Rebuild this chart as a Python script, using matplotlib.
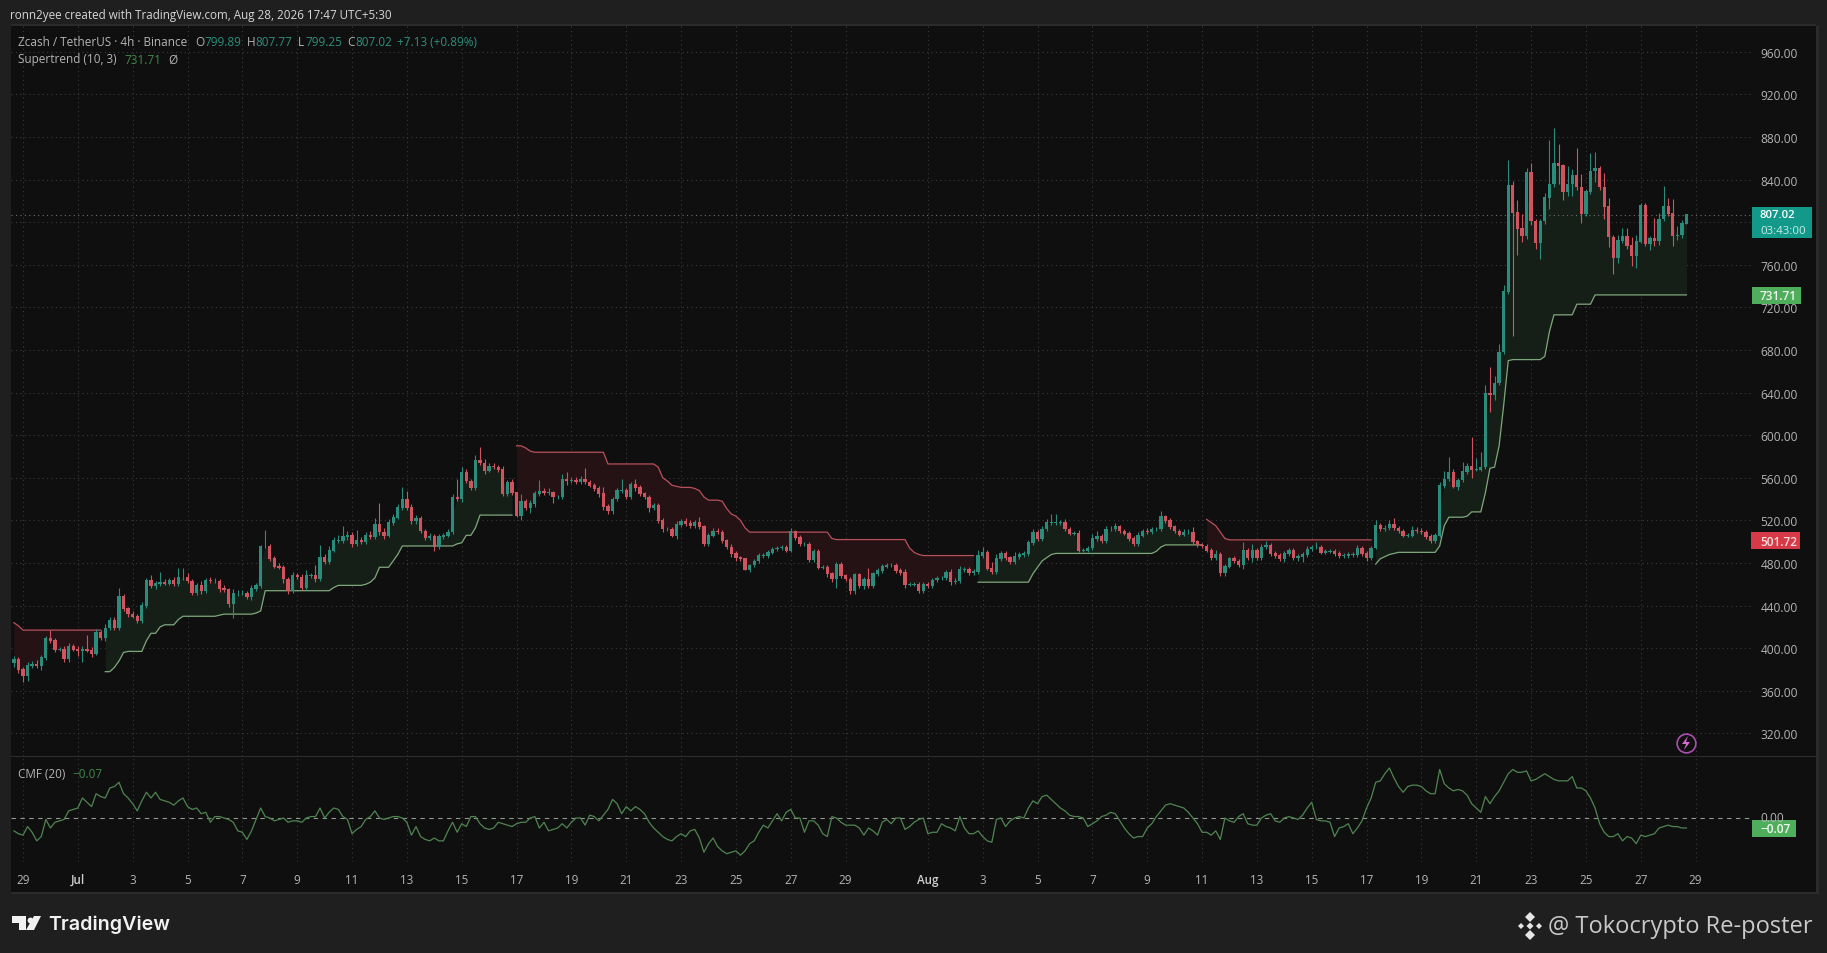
import matplotlib
matplotlib.use("Agg")
import numpy as np
from matplotlib import pyplot as plt
from matplotlib.lines import Line2D
from matplotlib.patches import Polygon, Rectangle

nan = float("nan")
W, H = 1827, 954

closes = [
    390, 380, 374, 384, 385, 384, 391, 409, 407, 399,
    399, 390, 402, 399, 398, 399, 398, 395, 415, 410,
    419, 426, 419, 449, 437, 432, 430, 426, 440, 464,
    459, 461, 462, 461, 464, 461, 467, 467, 463, 452,
    459, 454, 464, 463, 463, 456, 455, 442, 452, 452,
    452, 448, 456, 459, 496, 496, 484, 477, 476, 465,
    454, 468, 467, 457, 468, 468, 465, 485, 481, 492,
    501, 501, 505, 506, 498, 501, 500, 506, 505, 516,
    509, 506, 518, 523, 532, 540, 532, 520, 522, 510,
    504, 505, 495, 505, 506, 509, 542, 540, 565, 557,
    551, 576, 574, 567, 571, 570, 568, 545, 556, 546,
    524, 538, 532, 536, 545, 547, 546, 546, 542, 542,
    559, 557, 558, 556, 559, 556, 553, 550, 545, 533,
    529, 540, 548, 548, 542, 554, 551, 545, 542, 532,
    534, 520, 512, 512, 506, 516, 519, 517, 515, 518,
    514, 498, 506, 510, 509, 501, 495, 489, 485, 484,
    474, 478, 482, 487, 487, 490, 493, 494, 495, 492,
    510, 504, 498, 498, 483, 491, 476, 476, 470, 465,
    479, 468, 465, 454, 469, 459, 465, 459, 470, 473,
    477, 478, 478, 473, 471, 460, 460, 460, 454, 460,
    459, 464, 466, 466, 471, 462, 463, 474, 474, 471,
    472, 487, 490, 475, 472, 484, 489, 485, 481, 486,
    488, 489, 499, 509, 503, 512, 518, 518, 518, 518,
    512, 508, 508, 492, 492, 494, 503, 505, 501, 512,
    512, 514, 510, 508, 503, 498, 506, 510, 509, 512,
    512, 524, 520, 514, 510, 507, 509, 509, 500, 497,
    496, 492, 485, 488, 471, 477, 484, 482, 478, 492,
    485, 492, 485, 495, 497, 489, 487, 484, 489, 492,
    485, 486, 488, 493, 495, 495, 490, 491, 491, 489,
    487, 487, 488, 488, 494, 489, 485, 494, 515, 512,
    513, 516, 513, 510, 506, 506, 511, 510, 509, 505,
    501, 506, 553, 559, 565, 552, 558, 566, 571, 568,
    568, 570, 639, 638, 649, 678, 735, 835, 809, 794,
    787, 847, 801, 781, 801, 823, 836, 855, 853, 829,
    836, 844, 833, 808, 829, 848, 851, 833, 815, 786,
    767, 783, 787, 778, 769, 782, 816, 780, 785, 783,
    803, 815, 808, 787, 788, 799, 807.02,
]
first_open = 386

# wick lengths above / below the candle body
wick_up = [
    3, 2, 2, 3, 3, 4, 3, 2, 8, 3,
    2, 3, 3, 2, 3, 3, 13, 3, 3, 2,
    4, 3, 3, 8, 2, 2, 3, 2, 3, 2,
    5, 2, 10, 3, 2, 3, 8, 8, 4, 2,
    2, 4, 2, 3, 3, 2, 3, 2, 4, 3,
    3, 2, 3, 2, 1, 15, 2, 3, 3, 2,
    2, 4, 3, 3, 5, 3, 10, 12, 3, 4,
    3, 5, 10, 4, 3, 10, 3, 3, 4, 6,
    20, 4, 3, 3, 3, 11, 8, 3, 3, 2,
    2, 3, 2, 2, 2, 3, 3, 17, 5, 3,
    2, 5, 13, 4, 3, 3, 2, 3, 2, 3,
    1, 7, 2, 3, 3, 11, 3, 4, 2, 2,
    5, 6, 3, 3, 3, 10, 2, 2, 2, 6,
    2, 2, 2, 11, 2, 2, 5, 2, 2, 2,
    2, 2, 2, 2, 2, 3, 2, 3, 3, 2,
    5, 2, 2, 3, 3, 2, 2, 3, 2, 2,
    1, 1, 2, 2, 2, 2, 2, 2, 2, 2,
    3, 1, 2, 2, 2, 2, 2, 2, 2, 2,
    2, 2, 2, 2, 2, 2, 2, 10, 2, 2,
    2, 2, 2, 2, 2, 3, 2, 2, 2, 2,
    2, 2, 2, 2, 2, 3, 3, 3, 2, 2,
    2, 5, 5, 2, 6, 4, 2, 2, 2, 4,
    2, 2, 3, 3, 2, 3, 3, 8, 8, 2,
    3, 2, 2, 3, 2, 2, 4, 5, 2, 3,
    3, 4, 2, 2, 2, 2, 3, 2, 3, 2,
    2, 5, 1, 2, 2, 2, 3, 3, 5, 2,
    2, 2, 2, 4, 2, 2, 2, 3, 2, 8,
    2, 6, 2, 3, 4, 2, 2, 2, 2, 2,
    2, 2, 2, 3, 2, 5, 2, 2, 2, 2,
    2, 2, 2, 2, 3, 2, 2, 2, 5, 3,
    3, 4, 6, 2, 2, 2, 4, 3, 3, 2,
    2, 2, 3, 7, 15, 3, 2, 9, 3, 27,
    11, 14, 8, 25, 7, 8, 6, 23, 4, 12,
    14, 4, 9, 2, 2, 4, 41, 33, 18, 2,
    17, 6, 26, 12, 2, 17, 15, 2, 13, 8,
    2, 5, 8, 8, 8, 6, 2, 2, 2, 19,
    6, 19, 8, 14, 8, 3, 0.75,
]
wick_dn = [
    4, 3, 6, 5, 3, 3, 4, 2, 2, 3,
    2, 3, 3, 2, 5, 11, 2, 3, 1, 2,
    3, 2, 2, 2, 2, 3, 2, 2, 2, 2,
    2, 3, 3, 2, 2, 3, 3, 3, 2, 2,
    2, 3, 2, 2, 2, 3, 2, 3, 14, 3,
    2, 2, 3, 2, 2, 2, 2, 2, 2, 4,
    3, 2, 2, 2, 2, 2, 3, 2, 2, 2,
    2, 2, 2, 3, 3, 2, 2, 2, 2, 2,
    3, 3, 2, 2, 2, 2, 2, 3, 3, 2,
    2, 2, 4, 2, 2, 2, 2, 2, 3, 2,
    2, 2, 2, 3, 2, 2, 3, 2, 2, 2,
    1, 4, 2, 5, 3, 2, 2, 2, 6, 2,
    2, 4, 2, 2, 2, 2, 2, 2, 3, 3,
    3, 3, 2, 2, 2, 2, 3, 2, 2, 4,
    2, 2, 3, 2, 2, 3, 2, 2, 2, 2,
    2, 2, 2, 2, 2, 2, 2, 3, 3, 2,
    1, 2, 2, 2, 2, 2, 2, 2, 2, 2,
    2, 2, 2, 2, 2, 2, 2, 2, 3, 3,
    8, 2, 2, 3, 3, 2, 3, 2, 2, 2,
    2, 2, 2, 2, 2, 3, 2, 2, 2, 2,
    2, 2, 2, 2, 2, 3, 2, 2, 2, 2,
    2, 2, 2, 2, 2, 2, 2, 2, 2, 2,
    2, 2, 2, 2, 2, 2, 2, 2, 2, 2,
    2, 2, 2, 2, 2, 2, 2, 2, 2, 2,
    2, 2, 2, 2, 2, 2, 2, 2, 2, 2,
    2, 2, 2, 2, 2, 2, 2, 2, 2, 2,
    2, 2, 2, 2, 3, 3, 2, 2, 2, 4,
    2, 4, 2, 2, 2, 2, 2, 2, 3, 2,
    2, 3, 5, 2, 2, 2, 2, 2, 2, 2,
    2, 2, 2, 2, 2, 2, 3, 2, 1, 2,
    2, 2, 2, 2, 2, 2, 2, 2, 2, 2,
    2, 2, 2, 3, 2, 2, 3, 2, 2, 8,
    2, 2, 2, 16, 5, 2, 2, 2, 116, 25,
    6, 3, 4, 6, 16, 3, 11, 3, 17, 8,
    4, 11, 3, 9, 2, 3, 10, 3, 12, 9,
    16, 5, 3, 3, 10, 12, 2, 2, 6, 5,
    4, 2, 2, 9, 4, 3, 0.75,
]

# supertrend, one list per trend run
st_bear_1 = [424, 421] + [417] * 18
st_bull_1 = [378, 378, 382, 388, 396, 397, 397, 397, 397, 407, 414, 414, 420, 422, 422, 422, 427, 430] \
    + [430] * 7 + [431] + [432] * 7 + [433, 435] + [454] * 15 + [457] + [459] * 6 + [460, 462, 466] \
    + [476] * 3 + [482, 488] + [496] * 12 + [498, 499, 506, 506, 513] + [525] * 8
st_bear_2 = [590, 590, 588, 585] + [584] * 16 + [573] * 11 + [570, 560, 557, 553, 552, 551, 551, 551, 550, 548, 542] \
    + [539] * 3 + [538, 531, 526, 524, 520, 513] + [509] * 18 + [503] + [502] * 16 + [494, 490, 488] + [487] * 12
st_bull_2 = [462] * 12 + [470, 476, 482, 485, 488] + [489] * 22 + [491, 495] + [497] * 9
st_bear_3 = [521, 518, 515, 509, 503] + [501.72] * 32
st_bull_3 = [479, 484, 486, 488, 489] + [490] * 9 + [496, 515, 523, 523, 523, 523, 524, 528, 528, 528, 546, 569, 570,
                                                     590, 628, 670] \
    + [671] * 7 + [674, 697] + [713] * 5 + [723] * 4 + [731.71] * 21

cmf = [
    -.09, -.11, -.12, -.06, -.10, -.16, -.13, -.01, -.07, -.03,
    -.02, -.01, .05, .06, .07, .14, .11, .08, .17, .15,
    .14, .21, .22, .25, .17, .14, .10, .05, .12, .18,
    .14, .18, .13, .12, .11, .09, .12, .14, .08, .06,
    .07, .03, .04, -.03, .01, .01, 0, -.01, -.03, -.09,
    -.10, -.15, -.09, -.01, .07, .01, 0, -.02, -.01, 0,
    -.03, -.02, -.02, -.03, 0, .01, .01, .07, 0, .04,
    .07, .06, .01, -.01, -.11, -.08, -.06, -.01, .01, .05,
    0, -.01, 0, .01, .01, 0, -.03, -.12, -.06, -.13,
    -.15, -.16, -.14, -.16, -.16, -.09, -.03, -.10, -.04, -.06,
    .01, .01, -.04, -.07, -.08, -.07, -.03, -.04, -.05, -.06,
    -.04, -.03, -.03, 0, .01, -.07, -.03, -.09, -.08, -.07,
    -.04, -.07, -.03, 0, 0, -.05, .02, .01, -.02, .02,
    .06, .13, .10, .03, .08, .05, .08, .06, .03, -.03,
    -.07, -.10, -.13, -.15, -.16, -.13, -.11, -.13, -.09, -.08,
    -.14, -.24, -.18, -.14, -.20, -.23, -.25, -.24, -.23, -.26,
    -.23, -.18, -.16, -.10, -.05, -.07, -.02, .03, -.02, .04,
    .06, 0, 0, -.10, -.02, -.02, -.05, -.11, -.13, .01,
    0, -.03, -.05, -.05, -.05, -.07, -.12, -.07, -.09, -.12,
    -.03, -.01, -.04, 0, 0, -.08, -.06, -.03, -.01, 0,
    -.11, -.10, -.10, -.04, -.06, -.07, -.09, .01, -.07, -.11,
    -.11, -.09, -.13, -.16, -.17, -.01, 0, -.06, -.02, 0,
    .01, 0, .07, .12, .10, .15, .16, .13, .10, .07,
    .05, .02, .01, .01, 0, -.06, -.04, -.02, .01, .02,
    .04, .03, -.02, -.07, -.11, -.14, -.13, -.13, -.07, -.04,
    .01, .05, .09, .10, .09, .08, .07, .04, 0, -.04,
    -.10, -.10, -.12, -.09, -.15, 0, -.02, -.03, .01, .03,
    -.04, -.05, -.05, 0, .02, .03, -.02, -.03, 0, .01,
    0, -.01, .02, .07, .11, -.01, -.02, -.02, -.03, -.13,
    -.07, -.06, -.04, -.11, -.07, -.02, .07, .14, .25, .26,
    .31, .35, .28, .22, .18, .22, .23, .23, .22, .19,
    .17, .17, .34, .24, .21, .19, .20, .19, .16, .10,
    .07, .04, .15, .10, .15, .19, .25, .31, .34, .32,
    .32, .33, .26, .27, .29, .31, .29, .27, .26, .26,
    .26, .29, .21, .21, .19, .14, .07, -.04, -.10, -.13,
    -.13, -.11, -.16, -.13, -.14, -.18, -.12, -.13, -.12, -.11,
    -.07, -.06, -.05, -.06, -.06, -.07, -.07,
]

price_ticks = list(range(320, 1000, 40))
tick_days = [0] + list(range(2, 32, 2)) + list(range(33, 63, 2))
tick_labels = ["29", "Jul", "3", "5", "7", "9", "11", "13", "15", "17", "19", "21", "23", "25", "27", "29",
               "Aug", "3", "5", "7", "9", "11", "13", "15", "17", "19", "21", "23", "25", "27", "29"]

BG_OUTER = "#1f1f1f"
BG_PANE = "#0f0f0f"
GRID = "#3a3a3a"
UP = "#2b8c7b"
DOWN = "#cf5460"
BULL_LINE = "#7fa67b"
BEAR_LINE = "#b9515b"
BULL_FILL = "#151f17"
BEAR_FILL = "#241214"
TEXT = "#b4b4b4"
VALUE_UP = "#2f8f7c"
VALUE_ST = "#3f8a4a"
FONT = "Open Sans"

plt.rcParams["font.family"] = [FONT, "DejaVu Sans"]


def fx(x):
    return x / W


def fy(y):
    return 1 - y / H


def axes_rect(left, top, right, bottom):
    return [fx(left), fy(bottom), (right - left) / W, (bottom - top) / H]


def fig_box(fig, left, top, right, bottom, color, zorder=5):
    fig.add_artist(Rectangle((fx(left), fy(bottom)), (right - left) / W, (bottom - top) / H,
                             transform=fig.transFigure, facecolor=color, edgecolor="none", zorder=zorder))


def fig_poly(fig, points, color, zorder=5):
    pts = [(fx(a), fy(b)) for a, b in points]
    fig.add_artist(Polygon(pts, closed=True, transform=fig.transFigure, facecolor=color, edgecolor="none",
                           zorder=zorder))


def fig_label(fig, x, y, s, color=TEXT, size=8.3, **kw):
    kw.setdefault("va", "center")
    kw.setdefault("zorder", 6)
    fig.text(fx(x), fy(y), s, color=color, fontsize=size, **kw)


def draw_supertrend(ax, bars, line, bodies, line_color, fill_color):
    line = np.array(line, dtype=float)
    ax.fill_between(bars, bodies[bars], line, color=fill_color, linewidth=0, zorder=1)
    ax.plot(bars, line, color=line_color, linewidth=0.9, zorder=2, solid_joinstyle="round")


opens = np.array([first_open] + closes[:-1], dtype=float)
closes_arr = np.array(closes, dtype=float)
x = np.arange(len(closes))
highs = np.maximum(opens, closes_arr) + np.array(wick_up)
lows = np.minimum(opens, closes_arr) - np.array(wick_dn)
colors = [UP if c >= o else DOWN for o, c in zip(opens, closes_arr)]
body_mid = (opens + closes_arr) / 2
tick_bars = [2 + 6 * d for d in tick_days]

fig = plt.figure(figsize=(W / 100, H / 100), dpi=100, facecolor=BG_OUTER)
fig_box(fig, 11, 27, 1816, 893, BG_PANE, zorder=-1)

ax = fig.add_axes(axes_rect(11, 27, 1752, 757), facecolor="none")
ax_cmf = fig.add_axes(axes_rect(11, 757, 1752, 863), facecolor="none")

for a in (ax, ax_cmf):
    a.set_xlim(-0.626, 380.34)
    a.set_xticks(tick_bars)
    a.grid(axis="x", color=GRID, linewidth=0.8, linestyle=(0, (1, 3)), zorder=0)
    a.set_axisbelow(True)
    for s in a.spines.values():
        s.set_visible(False)

# price pane
ax.set_ylim(298.8, 984.2)
ax.set_yticks(price_ticks)
ax.set_yticklabels([f"{p:.2f}" for p in price_ticks])
ax.yaxis.tick_right()
ax.grid(axis="y", color=GRID, linewidth=0.8, linestyle=(0, (1, 3)), zorder=0)
ax.tick_params(axis="y", length=0, pad=6, labelsize=8.6, labelcolor=TEXT)
ax.tick_params(axis="x", length=0, labelbottom=False)

start = 0
for seg, line_c, fill_c in [(st_bear_1, BEAR_LINE, BEAR_FILL), (st_bull_1, BULL_LINE, BULL_FILL),
                            (st_bear_2, BEAR_LINE, BEAR_FILL), (st_bull_2, BULL_LINE, BULL_FILL),
                            (st_bear_3, BEAR_LINE, BEAR_FILL), (st_bull_3, BULL_LINE, BULL_FILL)]:
    bars = np.arange(start, start + len(seg))
    draw_supertrend(ax, bars, seg, body_mid, line_c, fill_c)
    start += len(seg)

ax.axhline(closes[-1], color="#6e6e6e", linewidth=0.8, linestyle=(0, (1, 3)), zorder=1)
ax.vlines(x, lows, highs, colors=colors, linewidth=0.8, zorder=3)
ax.bar(x, np.abs(closes_arr - opens) + 0.6, bottom=np.minimum(opens, closes_arr) - 0.3, width=0.72,
       color=colors, linewidth=0, zorder=4)

# cmf pane
ax_cmf.set_ylim(-0.308, 0.434)
ax_cmf.set_yticks([])
ax_cmf.axhline(0, color="#8d978b", linewidth=0.8, linestyle=(0, (4, 4)), zorder=2)
ax_cmf.plot(x, cmf, color="#4f8551", linewidth=0.9, zorder=3)
ax_cmf.set_xticklabels(tick_labels)
ax_cmf.tick_params(axis="x", length=0, pad=8, labelsize=8.4, labelcolor=TEXT)
for lab, name in zip(ax_cmf.get_xticklabels(), tick_labels):
    if name in ("Jul", "Aug"):
        lab.set_color("#d0d0d0")
        lab.set_fontweight("semibold")

fig_box(fig, 11, 757, 1816, 758, "#2d2d2d", zorder=2)
fig_box(fig, 11, 893, 1816, 895, "#2b2b2b", zorder=2)
fig_box(fig, 1816, 27, 1819, 895, "#2b2b2b", zorder=2)
fig_box(fig, 11, 25, 1816, 27, "#2b2b2b", zorder=2)

# header and legend texts
fig_label(fig, 10, 16, "ronn2yee created with TradingView.com, Aug 28, 2026 17:47 UTC+5:30", color="#d6d6d6",
          size=8.4, fontweight="medium")
fig_label(fig, 18, 43, "Zcash / TetherUS · 4h · Binance", size=8.5)
for lx, label, vx, value in [(195, "O", 204, "799.89"), (247, "H", 255, "807.77"), (298, "L", 305, "799.25"),
                             (347, "C", 355, "807.02")]:
    fig_label(fig, lx, 43, label, size=8.5)
    fig_label(fig, vx, 43, value, color=VALUE_UP, size=8.5)
fig_label(fig, 397, 43, "+7.13 (+0.89%)", color=VALUE_UP, size=8.5)
fig_label(fig, 18, 60, "Supertrend (10, 3)", size=8.5)
fig_label(fig, 124, 60, "731.71", color=VALUE_ST, size=8.5)
fig_label(fig, 168, 60, "Ø", size=8.5)
fig_label(fig, 18, 774, "CMF (20)", size=8.5)
fig_label(fig, 72, 774, "−0.07", color=VALUE_ST, size=8.5)

# price scale badges
fig_label(fig, 1760, 819, "0.00", size=8.6)
fig_box(fig, 1752, 208, 1812, 239, "#12998a")
fig_label(fig, 1760, 216, "807.02", color="#ffffff", size=8.2, fontweight="semibold")
fig_label(fig, 1760, 232, "03:43:00", color="#c9ece6", size=8.2)
fig_box(fig, 1752, 288, 1801, 305, "#4fae5c")
fig_label(fig, 1760, 297, "731.71", color="#eef7ee", size=8.6, fontweight="semibold")
fig_box(fig, 1751, 533, 1800, 550, "#d63a46")
fig_label(fig, 1760, 542, "501.72", color="#f6dede", size=8.6, fontweight="semibold")
fig_box(fig, 1752, 821, 1796, 838, "#4fae5c")
fig_label(fig, 1760, 830, "−0.07", color="#eef7ee", size=8.6, fontweight="semibold")

# purple bolt button
fig.add_artist(Line2D([fx(1686)], [fy(744)], marker="o", markersize=13.5, markerfacecolor="none",
                      markeredgecolor="#a94fb0", markeredgewidth=1.2, transform=fig.transFigure, zorder=6))
fig_poly(fig, [(1688, 737), (1682, 745), (1686, 745), (1684, 751), (1690, 743), (1686, 743)], "#d56ad0", zorder=6)

# TradingView logo
fig_poly(fig, [(12, 917), (26, 917), (26, 931), (19, 931), (19, 924), (12, 924)], "#f2f2f2")
fig.add_artist(Line2D([fx(30)], [fy(920.5)], marker="o", markersize=4.2, markerfacecolor="#f2f2f2",
                      markeredgecolor="none", transform=fig.transFigure, zorder=5))
fig_poly(fig, [(34, 917), (41, 917), (34, 931), (26, 931)], "#f2f2f2")
fig_label(fig, 48, 925, "TradingView", color="#f2f2f2", size=14.2, fontweight="semibold", family="Inter")

# reposter mark
for cx, cy, r in [(1530, 918, 5), (1530, 936, 5), (1521, 927, 3), (1539, 927, 3), (1530, 927, 3.5)]:
    fig_poly(fig, [(cx, cy - r), (cx + r, cy), (cx, cy + r), (cx - r, cy)], "#e6e6e6")
fig_label(fig, 1548, 927, "@ Tokocrypto Re-poster", color="#c9c9c9", size=17)

fig.savefig("out.png", dpi=100, facecolor=BG_OUTER)
